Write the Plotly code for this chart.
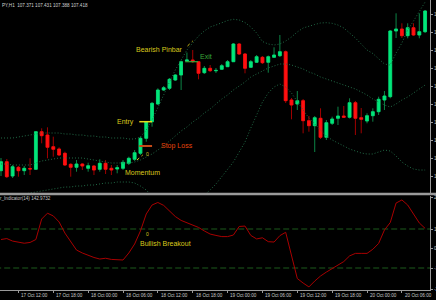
import plotly.graph_objects as go

W, H = 436, 300

# ---------------- data ----------------
opens = [105.833,105.923,105.780,105.867,105.833,105.855,105.847,106.223,106.190,106.073,
         106.050,106.007,105.897,105.867,105.900,105.857,105.880,105.847,105.907,105.857,
         105.850,105.857,105.907,105.947,106.007,106.157,106.323,106.500,106.640,106.657,
         106.740,106.790,106.930,106.940,106.923,106.813,106.857,106.832,106.847,106.873,
         106.923,107.100,107.000,106.867,106.917,106.967,106.917,106.967,106.983,107.023,
         106.540,106.500,106.533,106.333,106.283,106.357,106.167,106.307,106.357,106.380,
         106.367,106.513,106.363,106.330,106.383,106.423,106.540,106.573,107.230,107.250,
         107.183,107.263,107.190,107.223]
highs = [105.960,105.950,105.890,105.880,105.880,105.957,106.230,106.257,106.267,106.173,
         106.067,106.023,105.907,105.940,105.907,105.913,105.890,105.947,105.940,105.890,
         105.890,105.940,105.973,106.040,106.173,106.330,106.520,106.657,106.680,106.760,
         106.800,106.935,107.015,107.040,106.930,106.880,106.890,106.860,106.900,106.940,
         107.110,107.110,107.010,106.940,106.990,106.980,106.985,107.067,107.190,107.035,
         106.560,106.630,106.550,106.380,106.380,106.457,106.340,106.373,106.473,106.480,
         106.557,106.530,106.460,106.407,106.457,106.573,106.630,107.240,107.407,107.307,
         107.307,107.307,107.407,107.440]
lows = [105.780,105.760,105.760,105.773,105.790,105.790,105.840,106.107,105.957,105.973,
        105.980,105.880,105.773,105.823,105.840,105.823,105.790,105.823,105.800,105.790,
        105.807,105.840,105.890,105.930,105.990,106.123,106.273,106.490,106.630,106.640,
        106.730,106.640,106.920,106.910,106.747,106.800,106.820,106.810,106.840,106.870,
        106.920,106.990,106.807,106.860,106.910,106.900,106.813,106.960,106.970,106.510,
        106.347,106.440,106.207,106.223,106.020,106.150,106.140,106.290,106.290,106.360,
        106.355,106.190,106.207,106.307,106.323,106.390,106.440,106.557,107.160,107.160,
        107.157,107.180,107.157,107.210]
closes = [105.923,105.773,105.873,105.833,105.857,105.850,106.223,106.183,106.067,106.047,
          105.990,105.890,105.867,105.900,105.880,105.883,105.840,105.907,105.847,105.840,
          105.863,105.917,105.957,106.013,106.157,106.323,106.507,106.640,106.663,106.747,
          106.790,106.923,106.940,106.923,106.807,106.857,106.833,106.836,106.883,106.923,
          107.100,107.000,106.857,106.923,106.973,106.913,106.973,106.990,107.023,106.533,
          106.490,106.533,106.333,106.283,106.363,106.167,106.313,106.350,106.380,106.367,
          106.513,106.357,106.347,106.383,106.423,106.547,106.580,107.230,107.250,107.183,
          107.263,107.190,107.223,107.430]

bb_upper = [106.16,106.16,106.16,106.17,106.18,106.19,106.20,106.21,106.21,106.21,
            106.21,106.20,106.20,106.19,106.19,106.18,106.18,106.17,106.17,106.16,
            106.16,106.16,106.15,106.15,106.17,106.24,106.34,106.46,106.59,106.72,
            106.84,106.94,107.04,107.11,107.18,107.23,107.27,107.29,107.315,107.335,
            107.347,107.34,107.315,107.27,107.21,107.125,107.10,107.09,107.10,107.13,
            107.17,107.22,107.26,107.28,107.295,107.31,107.313,107.307,107.29,107.26,
            107.21,107.16,107.10,107.04,107.005,106.95,106.90,106.89,107.01,107.11,
            107.24,107.33,107.42,107.52]
bb_middle = [105.90,105.90,105.89,105.89,105.89,105.89,105.91,105.93,105.94,105.95,
             105.96,105.96,105.96,105.96,105.96,105.95,105.94,105.93,105.92,105.91,
             105.91,105.91,105.91,105.92,105.94,105.97,106.00,106.04,106.08,106.13,
             106.18,106.23,106.27,106.32,106.36,106.41,106.45,106.50,106.55,106.59,
             106.64,106.68,106.72,106.77,106.80,106.83,106.86,106.88,106.90,106.90,
             106.89,106.87,106.85,106.82,106.80,106.77,106.75,106.73,106.71,106.69,
             106.67,106.65,106.62,106.59,106.55,106.52,106.49,106.47,106.50,106.54,
             106.57,106.61,106.65,106.69]
bb_lower = [105.58,105.58,105.59,105.59,105.60,105.61,105.62,105.63,105.64,105.65,
            105.66,105.67,105.67,105.68,105.68,105.69,105.69,105.70,105.71,105.71,
            105.72,105.72,105.72,105.71,105.68,105.64,105.58,105.51,105.44,105.39,
            105.36,105.34,105.40,105.46,105.54,105.59,105.64,105.70,105.77,105.84,
            105.92,106.02,106.12,106.26,106.39,106.52,106.61,106.67,106.70,106.67,
            106.61,106.52,106.44,106.36,106.30,106.23,106.18,106.14,106.11,106.08,
            106.05,106.03,106.01,106.00,106.00,106.02,106.04,106.03,105.98,105.92,
            105.88,105.85,105.84,105.84]

indicator = [4.6,5.1,3.8,3.3,2.7,3.1,4.6,15.1,18.1,16.7,
             13.6,7.9,3.8,-0.8,-2.3,-3.6,-4.6,-5.4,-5.0,-5.6,
             -5.9,-5.9,-2.3,2.3,9.0,17.7,22.3,23.6,22.1,19.2,
             16.4,14.4,13.1,11.8,10.8,9.0,7.4,6.7,6.1,6.1,
             6.9,11.3,11.5,6.7,4.9,5.5,3.5,3.3,6.6,8.3,
             -3.3,-15.4,-17.7,-19.7,-16.7,-14.1,-12.1,-10.3,-8.2,-6.7,
             -3.8,-2.5,-2.5,-2.5,-0.4,2.6,9.5,13.3,23.3,24.9,
             22.3,17.7,13.1,10.3]
ind_levels = [10, -10]

tick_index = [-3, 3, 9, 15, 21, 27, 33, 39, 45, 51, 57, 63, 69]
tick_text = ["17 Oct 2017", "17 Oct 12:00", "17 Oct 18:00", "18 Oct 00:00", "18 Oct 06:00",
             "18 Oct 12:00", "18 Oct 18:00", "19 Oct 00:00", "19 Oct 06:00", "19 Oct 12:00",
             "19 Oct 18:00", "20 Oct 00:00", "20 Oct 06:00"]

price_ticks = [107.40, 107.22, 107.04, 106.86, 106.68, 106.50, 106.32, 106.14, 105.96, 105.78]
ind_ticks = [26.15, 10, 0, -10, -20.9]
ind_tick_text = ["26.1528", "10", "0.00", "-10", "-20.9040"]

entry_price, stop_price, exit_price = 106.323, 106.080, 106.923
entry_span, exit_span = [23.8, 26.0], [31.7, 33.9]

header = "PY,H1  107.371 107.431 107.388 107.418"
ind_label = "r_Indicator(14) 142.9732"

# ---------------- styling ----------------
BG = "black"
GREEN = "#00e67a"
GREEN_WICK = "#0c8446"
RED = "#ff1010"
RED_WICK = "#a00000"
BAND = "#226b47"
YELLOW = "#d8c81c"
FONT = "Liberation Sans, Arial, sans-serif"

x = list(range(len(opens)))
body_hi = [max(o, c) for o, c in zip(opens, closes)]
body_lo = [min(o, c) for o, c in zip(opens, closes)]

fig = go.Figure()

for band in (bb_upper, bb_middle, bb_lower):
    fig.add_trace(go.Scatter(x=x, y=band, mode="lines", xaxis="x", yaxis="y",
                             line=dict(color=BAND, width=1, dash="1px,2px"), hoverinfo="skip"))

# wicks
fig.add_trace(go.Candlestick(x=x, open=opens, high=highs, low=lows, close=closes,
                             xaxis="x", yaxis="y", whiskerwidth=0,
                             increasing=dict(line=dict(color=GREEN_WICK, width=1), fillcolor="rgba(0,0,0,0)"),
                             decreasing=dict(line=dict(color=RED_WICK, width=1), fillcolor="rgba(0,0,0,0)")))
# bodies
fig.add_trace(go.Candlestick(x=x, open=opens, high=body_hi, low=body_lo, close=closes,
                             xaxis="x", yaxis="y", whiskerwidth=0,
                             increasing=dict(line=dict(color=GREEN, width=0.6), fillcolor=GREEN),
                             decreasing=dict(line=dict(color=RED, width=0.6), fillcolor=RED)))

# trade lines
fig.add_trace(go.Scatter(x=entry_span, y=[entry_price]*2, mode="lines", xaxis="x", yaxis="y",
                         line=dict(color="#e6d81a", width=1.5), hoverinfo="skip"))
fig.add_trace(go.Scatter(x=entry_span, y=[stop_price]*2, mode="lines", xaxis="x", yaxis="y",
                         line=dict(color="#c44a18", width=2), hoverinfo="skip"))
fig.add_trace(go.Scatter(x=exit_span, y=[exit_price]*2, mode="lines", xaxis="x", yaxis="y",
                         line=dict(color="#34a83a", width=1.2), hoverinfo="skip"))

# indicator
for lv in ind_levels:
    fig.add_trace(go.Scatter(x=[-1, len(x)], y=[lv, lv], mode="lines", xaxis="x", yaxis="y2",
                             line=dict(color="#1d5a1d", width=1, dash="6px,3px"), hoverinfo="skip"))
fig.add_trace(go.Scatter(x=x, y=indicator, mode="lines", xaxis="x", yaxis="y2",
                         line=dict(color="#a80000", width=1), hoverinfo="skip"))

def px_to_paper(py):
    return (H - py) / H

main_top, main_bot = 0, 193
ind_top, ind_bot = 196, 290
ind_range = [-21.28, 26.92]

annotations = []
def txt(text, xx, yy, color, size, xanchor="left", xref="x", yref="y"):
    annotations.append(dict(text=text, x=xx, y=yy, xref=xref, yref=yref, showarrow=False,
                            xanchor=xanchor, yanchor="middle",
                            font=dict(color=color, size=size, family=FONT)))

txt("Bearish Pinbar", 31.6, 107.05, YELLOW, 7, xanchor="right")
txt("Exit", 33.9, 106.98, "#38a838", 7)
txt("Entry", 23.2, 106.323, YELLOW, 7, xanchor="right")
txt("Stop Loss", 27.2, 106.08, "#e8460c", 7)
txt("0", 24.6, 106.00, YELLOW, 5)
txt("Momentum", 21.0, 105.82, YELLOW, 7)
txt("Bullish Breakout", 23.6, 2.8, YELLOW, 7, yref="y2")
txt("0", 24.6, 7.4, YELLOW, 5, yref="y2")

txt(header, 0, px_to_paper(5), "#d0d0d0", 4.6, xref="paper", yref="paper")
txt(ind_label, -0.004, px_to_paper(198.5), "#c8c8c8", 4.6, xref="paper", yref="paper")

for ti, tt in zip(tick_index, tick_text):
    annotations.append(dict(text=tt, x=ti + 0.15, y=px_to_paper(295), xref="x", yref="paper",
                            showarrow=False, xanchor="left", yanchor="middle",
                            font=dict(color="#c8c8c8", size=4.6, family=FONT)))

shapes = [
    dict(type="rect", xref="paper", yref="paper", x0=0, x1=1, y0=px_to_paper(195.2), y1=px_to_paper(192.8),
         fillcolor="#9a9a9a", line=dict(width=0)),
    dict(type="line", xref="x", yref="y", x0=23.4, x1=24.4, y0=105.94, y1=105.99,
         line=dict(color=YELLOW, width=1, dash="dot")),
    dict(type="line", xref="x", yref="y", x0=32.1, x1=33.0, y0=107.08, y1=107.13,
         line=dict(color=YELLOW, width=1, dash="dot")),
]

x_domain = [0, 430 / W]
fig.update_layout(
    width=W, height=H, margin=dict(l=0, r=0, t=0, b=0, autoexpand=False),
    paper_bgcolor=BG, plot_bgcolor=BG, showlegend=False,
    annotations=annotations, shapes=shapes,
    xaxis=dict(domain=x_domain, range=[-0.172, 73.84], anchor="y2", automargin=False,
               showgrid=False, zeroline=False, showline=True, linecolor="#9a9a9a", linewidth=1,
               tickvals=tick_index, ticktext=[""] * len(tick_index), ticks="outside", ticklen=2,
               tickcolor="#9a9a9a", showticklabels=False, rangeslider=dict(visible=False)),
    yaxis=dict(domain=[px_to_paper(main_bot), px_to_paper(main_top)], automargin=False,
               range=[107.54 - main_bot / 100, 107.54], anchor="x", side="right",
               showgrid=False, zeroline=False, showline=True, linecolor="#9a9a9a", linewidth=1,
               tickvals=price_ticks, ticktext=[f"{p:.3f}" for p in price_ticks],
               ticks="outside", ticklen=2, tickcolor="#9a9a9a",
               tickfont=dict(color="#c8c8c8", size=4.6, family=FONT)),
    yaxis2=dict(domain=[px_to_paper(ind_bot), px_to_paper(ind_top)], range=ind_range,
                anchor="x", side="right", automargin=False,
                showgrid=False, zeroline=False, showline=True, linecolor="#9a9a9a", linewidth=1,
                tickvals=ind_ticks, ticktext=ind_tick_text,
                ticks="outside", ticklen=2, tickcolor="#9a9a9a",
                tickfont=dict(color="#c8c8c8", size=4.6, family=FONT)),
)

fig.write_html("out.html")
